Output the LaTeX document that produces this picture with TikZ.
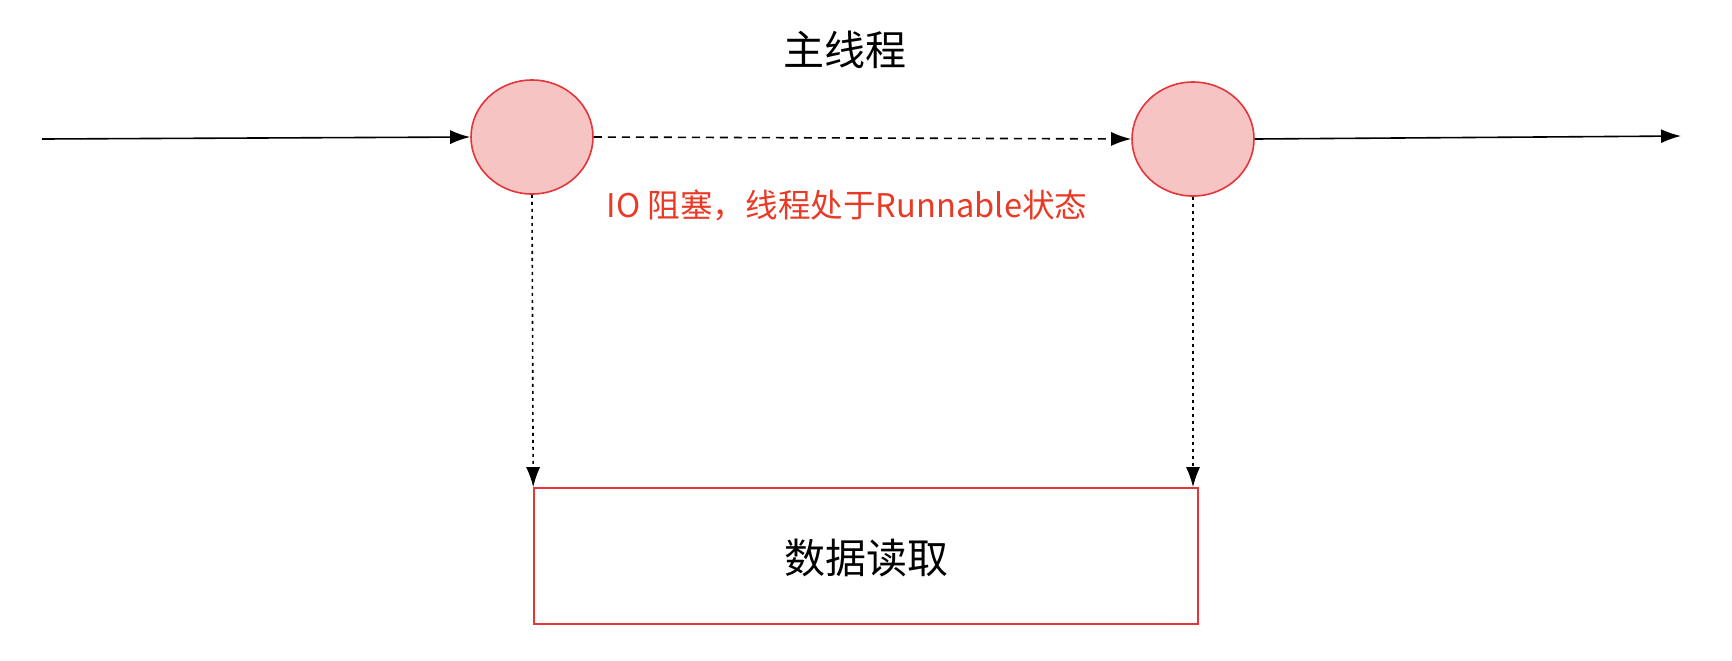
\documentclass[tikz,border=0pt]{standalone}
\usepackage{fontspec}
\newfontfamily\cjk{Noto Sans CJK SC}
\usetikzlibrary{arrows.meta,shapes.geometric}
\definecolor{fillred}{HTML}{F5C4C3}
\definecolor{linered}{HTML}{E5343A}
\definecolor{textred}{HTML}{EA3A26}
\begin{document}
\begin{tikzpicture}[x=0.5pt,y=-0.5pt,
  circ/.style={ellipse,draw=linered,fill=fillred,line width=0.8pt,minimum width=61pt,minimum height=57pt,inner sep=0pt},
  arr/.style={-{Latex[length=10pt,width=7pt]},line width=0.8pt},
  lbl/.style={font=\cjk\fontsize{20.5}{24}\selectfont}]
\useasboundingbox (0,0) rectangle (1732,660);
\coordinate (s) at (42,139);
\coordinate (e) at (1681,136);
\node[circ] (c1) at (532,137) {};
\node[circ] (c2) at (1193,139) {};
\node[draw=linered,line width=0.8pt,minimum width=332pt,minimum height=68pt,inner sep=0pt] (r) at (866,556) {};
\node[lbl] (t) at (845,50) {主线程};
\node[font=\cjk\fontsize{16.3}{19}\selectfont,text=textred] (n) at (847,205) {IO 阻塞，线程处于Runnable状态};
\node[lbl] (d) at (866,558) {数据读取};
\draw[arr] (s) -- (c1.west);
\draw[arr,dash pattern=on 4pt off 3pt] (c1.east) -- (c2.west);
\draw[arr,dash pattern=on 1.5pt off 2pt] (c1.south) -- (r.north west);
\draw[arr] (c2.east) -- (e);
\draw[arr,dash pattern=on 1.5pt off 2pt] (c2.south) -- (c2.south |- r.north);
\end{tikzpicture}
\end{document}
